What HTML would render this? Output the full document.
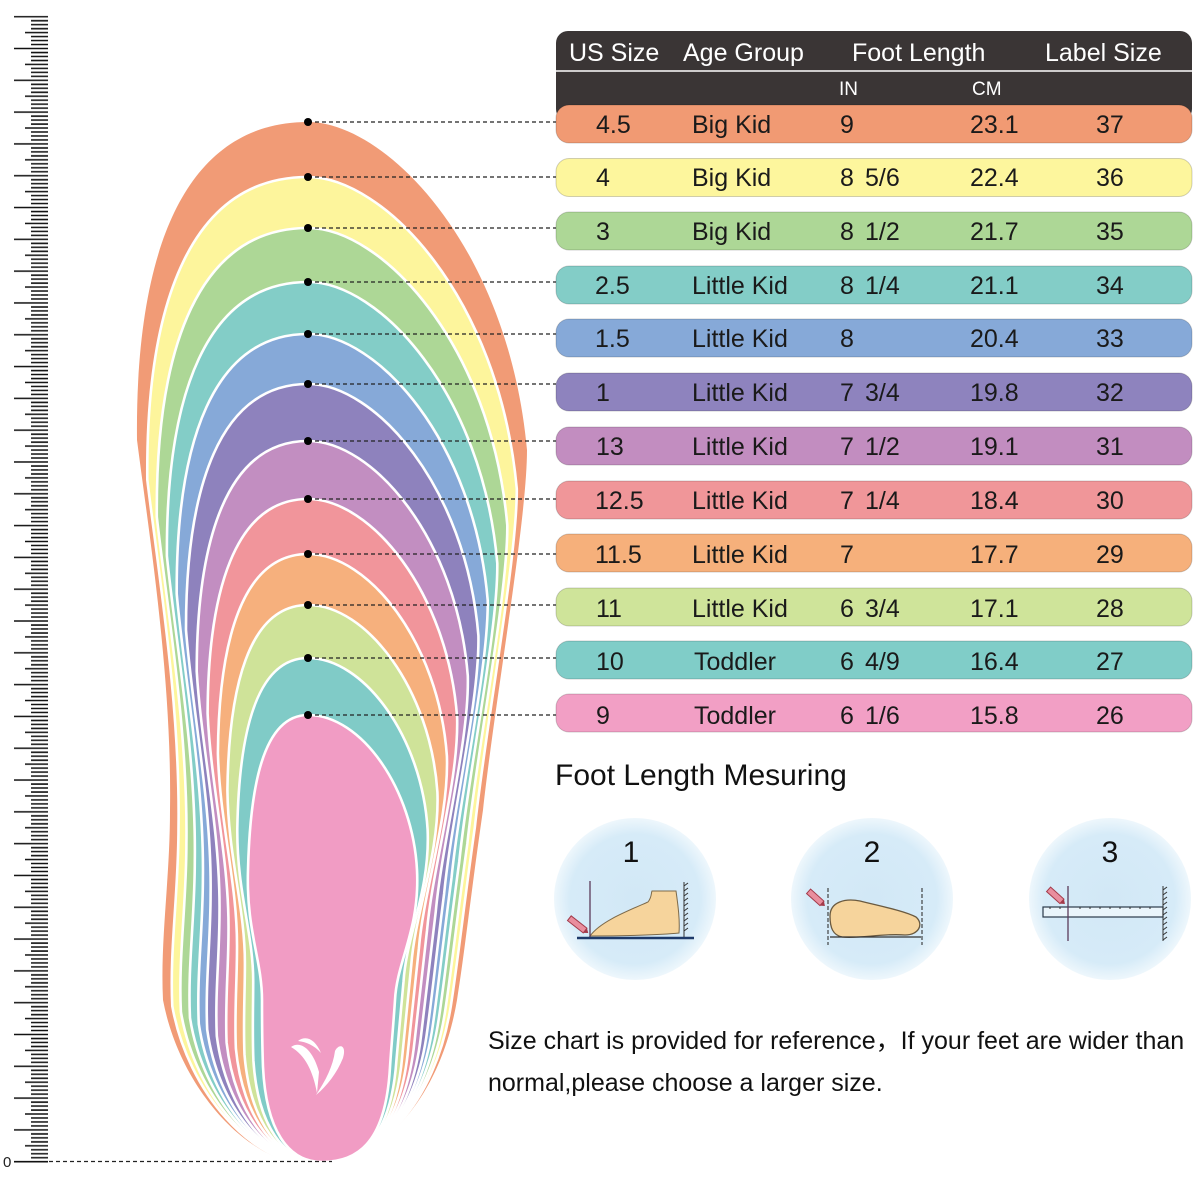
<!DOCTYPE html>
<html><head><meta charset="utf-8"><style>
html,body{margin:0;padding:0;background:#fff;}
svg{display:block;}
text{font-family:"Liberation Sans","Noto Sans CJK SC",sans-serif;}
</style></head><body>
<svg width="1200" height="1200" viewBox="0 0 1200 1200" xmlns="http://www.w3.org/2000/svg">
<defs>
<pattern id="rul" patternUnits="userSpaceOnUse" x="0" y="15.7" width="60" height="31.806">
<path d="M14 1H48M31 4.98H48M31 8.95H48M31 12.93H48M25 16.9H48M31 20.88H48M31 24.85H48M31 28.83H48" stroke="#111" stroke-width="1.6"/>
</pattern>
<radialGradient id="cg" cx="50%" cy="50%" r="50%">
<stop offset="0" stop-color="#d2e8f6"/><stop offset="0.8" stop-color="#d6ebf8"/><stop offset="1" stop-color="#eef7fc"/>
</radialGradient>
</defs>
<rect width="1200" height="1200" fill="#fff"/>
<!-- ruler -->
<rect x="0" y="15.7" width="60" height="1144" fill="url(#rul)"/>
<path d="M14 1161.7H48" stroke="#111" stroke-width="1.6"/>
<text x="3" y="1167" font-size="15" fill="#222">0</text>

<!-- feet -->
<g stroke="#fff" stroke-width="2.6">
<path fill="#f19b76" stroke="none" d="M308 122C385 122 508 245 527 450C527 520 495 700 483 810C470 900 465 950 457 1000C440 1100 380 1165 312 1165C250 1165 180 1090 163 1000C160 940 170 880 170 810C172 680 150 540 137 440C135 250 185 122 308 122Z"/>
<path fill="#fdf59c" d="M308 177C382.9 177 499.2 295.5 516.8 488.9C517.1 558 485.9 724.1 474.8 827.6C462.9 912.1 458.1 959.3 450.8 1006.2C435 1103.7 378.1 1164.7 312.9 1164.7C253.5 1164.7 188 1093.7 172.3 1006.2C169.5 949.3 178.5 893 178.5 827.6C180.3 706 158.9 576.2 147.3 479.9C145.7 300.1 192.1 177 308 177Z"/>
<path fill="#add796" d="M308 228C380.9 228 491 342.4 507.3 525.1C507.9 593.3 477.5 746.5 467.3 844C456.2 923.2 451.8 967.9 445 1012C430.3 1107.2 376.4 1164.5 313.8 1164.5C256.8 1164.5 195.4 1097.2 180.9 1012C178.2 957.9 186.4 905 186.4 844C188.1 730.1 167.2 609.7 156.8 516.9C155.6 346.6 198.8 228 308 228Z"/>
<path fill="#83cdc7" d="M308 282C378.8 282 482.4 392 497.3 563.3C498.1 630.6 468.6 770.1 459.3 861.3C449.2 935.1 445 977 438.9 1018.1C425.4 1110.8 374.6 1164.2 314.7 1164.2C260.3 1164.2 203.2 1100.8 190 1018.1C187.5 967 194.8 917.8 194.8 861.3C196.3 755.5 175.9 645.2 166.9 556C166 395.7 205.8 282 308 282Z"/>
<path fill="#86a9d8" d="M308 334C376.8 334 474 439.8 487.7 600.2C488.7 666.6 460 793 451.5 877.9C442.5 946.5 438.5 985.8 433 1024C420.7 1114.3 372.8 1163.9 315.6 1163.9C263.6 1163.9 210.7 1104.3 198.8 1024C196.5 975.8 202.9 930.1 202.9 877.9C204.2 780.1 184.3 679.4 176.7 593.7C176.1 443.1 212.5 334 308 334Z"/>
<path fill="#8e82bd" d="M308 384C374.8 384 466 485.8 478.4 635.6C479.7 701.1 451.7 814.9 444.1 893.9C436 957.4 432.3 994.2 427.4 1029.6C416.1 1117.7 371.2 1163.7 316.4 1163.7C266.8 1163.7 218 1107.7 207.2 1029.6C205.1 984.2 210.6 941.9 210.6 893.9C211.8 803.7 192.4 712.3 186 630C185.8 488.6 219 384 308 384Z"/>
<path fill="#c28ec1" d="M308 441C372.6 441 456.9 538.2 467.8 675.9C469.4 740.5 442.3 839.9 435.7 912.2C428.6 969.9 425.2 1003.8 421 1036C411 1121.5 369.2 1163.4 317.4 1163.4C270.4 1163.4 226.3 1111.5 216.8 1036C214.9 993.8 219.5 955.3 219.5 912.2C220.4 830.6 201.6 749.8 196.7 671.3C196.9 540.5 226.4 441 308 441Z"/>
<path fill="#f1959b" d="M308 499C370.4 499 447.6 591.5 457.1 717C459 780.7 432.7 865.3 427 930.8C421 982.7 418 1013.6 414.4 1042.6C405.7 1125.4 367.3 1163.1 318.4 1163.1C274.2 1163.1 234.7 1115.4 226.6 1042.6C224.9 1003.6 228.5 969 228.5 930.8C229.2 858 211 788 207.6 713.4C208.1 593.3 234 499 308 499Z"/>
<path fill="#f6b07d" d="M308 554C368.2 554 438.8 642 446.9 756C449.1 818.7 423.6 889.4 418.9 948.4C413.9 994.7 411.1 1022.9 408.2 1048.8C400.7 1129.1 365.4 1162.8 319.3 1162.8C277.7 1162.8 242.7 1119.1 235.9 1048.8C234.3 1012.9 237 982 237 948.4C237.6 884 219.9 824.1 217.9 753.3C218.8 643.4 241.1 554 308 554Z"/>
<path fill="#cfe399" d="M308 605C366.3 605 430.6 688.9 437.4 792.1C439.8 853.9 415.2 911.8 411.3 964.8C407.3 1005.9 404.7 1031.5 402.4 1054.6C396 1132.6 363.7 1162.6 320.1 1162.6C281 1162.6 250 1122.6 244.5 1054.6C243.1 1021.5 244.9 994 244.9 964.8C245.3 908.1 228.2 857.7 227.4 790.2C228.7 689.8 247.7 605 308 605Z"/>
<path fill="#80cbc7" d="M308 658C364.2 658 422.1 737.6 427.6 829.6C430.3 890.6 406.4 935 403.5 981.7C400.4 1017.5 398.1 1040.4 396.4 1060.6C391.2 1136.2 361.9 1162.3 321 1162.3C284.3 1162.3 257.7 1126.2 253.4 1060.6C252.2 1030.4 253.2 1006.5 253.2 981.7C253.4 933.1 236.8 892.5 237.3 828.7C238.9 738.1 254.6 658 308 658Z"/>
<path fill="#f19cc4" d="M308 715C362 715 413 790 417 870C420 930 397 960 395 1000C393 1030 391 1050 390 1067C386 1140 360 1162 322 1162C288 1162 266 1130 263 1067C262 1040 262 1020 262 1000C262 960 246 930 248 870C250 790 262 715 308 715Z"/>
</g>
<!-- logo -->
<g fill="#fff">
<path d="M291 1047C301 1040 313 1050 319 1072L317 1093C313 1071 305 1055 291 1047Z"/>
<path d="M298 1041C306 1035 315 1039 321 1053C314 1045 306 1042 298 1041Z"/>
<path d="M335 1051C339 1043 347 1045 343 1058C337 1073 327 1086 316 1095C326 1080 333 1066 335 1051Z"/>
</g>
<path d="M49 1161.5H332" stroke="#222" stroke-width="1.2" stroke-dasharray="4 3"/>

<!-- dashed leaders and dots -->
<g stroke="#222" stroke-width="1.2" stroke-dasharray="4 3">
<path d="M308 122H556M308 177H556M308 228H556M308 282H556M308 334H556M308 384H556M308 441H556M308 499H556M308 554H556M308 605H556M308 658H556M308 715H556"/>
</g>
<g fill="#000">
<circle cx="308" cy="122" r="4"/><circle cx="308" cy="177" r="4"/><circle cx="308" cy="228" r="4"/><circle cx="308" cy="282" r="4"/><circle cx="308" cy="334" r="4"/><circle cx="308" cy="384" r="4"/><circle cx="308" cy="441" r="4"/><circle cx="308" cy="499" r="4"/><circle cx="308" cy="554" r="4"/><circle cx="308" cy="605" r="4"/><circle cx="308" cy="658" r="4"/><circle cx="308" cy="715" r="4"/>
</g>

<!-- table header -->
<rect x="556" y="31" width="636" height="90" rx="12" fill="#3a3535"/>
<path d="M556 71H1192" stroke="#fff" stroke-width="1.5"/>
<g fill="#fff" font-size="25">
<text x="569" y="61">US Size</text>
<text x="683" y="61">Age Group</text>
<text x="852" y="61">Foot Length</text>
<text x="1045" y="61">Label Size</text>
</g>
<g fill="#fff" font-size="19">
<text x="839" y="95">IN</text>
<text x="972" y="95">CM</text>
</g>

<!-- rows -->
<g stroke="rgba(0,0,0,0.18)" stroke-width="1">
<rect x="556" y="105" width="636" height="38" rx="13" fill="#f19a73"/>
<rect x="556" y="158.5" width="636" height="38" rx="13" fill="#fdf69d"/>
<rect x="556" y="212" width="636" height="38" rx="13" fill="#add796"/>
<rect x="556" y="266" width="636" height="38" rx="13" fill="#83cdc7"/>
<rect x="556" y="319" width="636" height="38" rx="13" fill="#86a9d8"/>
<rect x="556" y="373" width="636" height="38" rx="13" fill="#8e83be"/>
<rect x="556" y="427" width="636" height="38" rx="13" fill="#c28dc0"/>
<rect x="556" y="481" width="636" height="38" rx="13" fill="#f09699"/>
<rect x="556" y="534" width="636" height="38" rx="13" fill="#f6b07b"/>
<rect x="556" y="588" width="636" height="38" rx="13" fill="#cfe49a"/>
<rect x="556" y="641" width="636" height="38" rx="13" fill="#80cdc8"/>
<rect x="556" y="694" width="636" height="38" rx="13" fill="#f29fc5"/>
</g>
<g fill="#1a1a1a" font-size="25">
<text x="596" y="133">4.5</text><text x="692" y="133">Big Kid</text><text x="840" y="133">9</text><text x="970" y="133">23.1</text><text x="1096" y="133">37</text>
<text x="596" y="186">4</text><text x="692" y="186">Big Kid</text><text x="840" y="186">8</text><text x="865" y="186">5/6</text><text x="970" y="186">22.4</text><text x="1096" y="186">36</text>
<text x="596" y="240">3</text><text x="692" y="240">Big Kid</text><text x="840" y="240">8</text><text x="865" y="240">1/2</text><text x="970" y="240">21.7</text><text x="1096" y="240">35</text>
<text x="595" y="294">2.5</text><text x="692" y="294">Little Kid</text><text x="840" y="294">8</text><text x="865" y="294">1/4</text><text x="970" y="294">21.1</text><text x="1096" y="294">34</text>
<text x="595" y="347">1.5</text><text x="692" y="347">Little Kid</text><text x="840" y="347">8</text><text x="970" y="347">20.4</text><text x="1096" y="347">33</text>
<text x="596" y="401">1</text><text x="692" y="401">Little Kid</text><text x="840" y="401">7</text><text x="865" y="401">3/4</text><text x="970" y="401">19.8</text><text x="1096" y="401">32</text>
<text x="596" y="455">13</text><text x="692" y="455">Little Kid</text><text x="840" y="455">7</text><text x="865" y="455">1/2</text><text x="970" y="455">19.1</text><text x="1096" y="455">31</text>
<text x="595" y="509">12.5</text><text x="692" y="509">Little Kid</text><text x="840" y="509">7</text><text x="865" y="509">1/4</text><text x="970" y="509">18.4</text><text x="1096" y="509">30</text>
<text x="595" y="563">11.5</text><text x="692" y="563">Little Kid</text><text x="840" y="563">7</text><text x="970" y="563">17.7</text><text x="1096" y="563">29</text>
<text x="596" y="617">11</text><text x="692" y="617">Little Kid</text><text x="840" y="617">6</text><text x="865" y="617">3/4</text><text x="970" y="617">17.1</text><text x="1096" y="617">28</text>
<text x="596" y="670">10</text><text x="694" y="670">Toddler</text><text x="840" y="670">6</text><text x="865" y="670">4/9</text><text x="970" y="670">16.4</text><text x="1096" y="670">27</text>
<text x="596" y="724">9</text><text x="694" y="724">Toddler</text><text x="840" y="724">6</text><text x="865" y="724">1/6</text><text x="970" y="724">15.8</text><text x="1096" y="724">26</text>
</g>

<text x="555" y="785" font-size="30" fill="#111">Foot Length Mesuring</text>

<!-- circles -->
<circle cx="635" cy="899" r="81" fill="url(#cg)"/>
<circle cx="872" cy="899" r="81" fill="url(#cg)"/>
<circle cx="1110" cy="899" r="81" fill="url(#cg)"/>
<g font-size="30" fill="#111" text-anchor="middle">
<text x="631" y="862">1</text><text x="872" y="862">2</text><text x="1110" y="862">3</text>
</g>
<!-- circle 1 -->
<path d="M590 936C600 922 625 912 648 902C652 897 651 893 652 891L676 891C678 905 680 920 679 933C660 935 620 936 590 936Z" fill="#f6d49c" stroke="#7d6a4a" stroke-width="1"/>
<path d="M590 881V939" stroke="#5b3a5a" stroke-width="1.3"/>
<path d="M577 938H694" stroke="#1e3a6a" stroke-width="2.5"/>
<path d="M684 882V937M684 886l4-3M684 891l4-3M684 896l4-3M684 901l4-3M684 906l4-3M684 911l4-3M684 916l4-3M684 921l4-3M684 926l4-3M684 931l4-3" stroke="#333" stroke-width="1"/>
<g transform="translate(578 925) rotate(38)"><rect x="-11" y="-3" width="20" height="6" fill="#e98e9e" stroke="#a33a4a" stroke-width="1"/><path d="M9 -3L13 0L9 3Z" fill="#a33a4a"/></g>
<!-- circle 2 -->
<path d="M830 916C830 902 845 898 860 901C880 906 905 911 916 917C924 924 919 935 905 935C882 933 860 939 842 937C833 935 830 928 830 916Z" fill="#f6d49c" stroke="#6a5a40" stroke-width="1.3"/>
<path d="M828 888V945M922 888V945" stroke="#333" stroke-width="1.1" stroke-dasharray="4 2"/>
<path d="M830 937H921" stroke="#333" stroke-width="1.2"/>
<g transform="translate(816 898) rotate(42)"><rect x="-10" y="-3" width="18" height="6" fill="#e98e9e" stroke="#a33a4a" stroke-width="1"/><path d="M8 -3L12 0L8 3Z" fill="#a33a4a"/></g>
<!-- circle 3 -->
<rect x="1043" y="907" width="120" height="10" fill="#eaf5fb" stroke="#2b3a4a" stroke-width="1.2"/>
<path d="M1050 907v2M1060 907v2M1080 907v2M1090 907v2M1100 907v2M1110 907v2M1120 907v2M1130 907v2M1140 907v2M1150 907v2" stroke="#333" stroke-width="1"/>
<path d="M1068 886V941" stroke="#5b3a5a" stroke-width="1.3"/>
<path d="M1163 886V941M1163 890l4-3M1163 895l4-3M1163 900l4-3M1163 905l4-3M1163 910l4-3M1163 915l4-3M1163 920l4-3M1163 925l4-3M1163 930l4-3M1163 935l4-3M1163 940l4-3" stroke="#333" stroke-width="1"/>
<g transform="translate(1056 896) rotate(42)"><rect x="-10" y="-3" width="18" height="6" fill="#e98e9e" stroke="#a33a4a" stroke-width="1"/><path d="M8 -3L12 0L8 3Z" fill="#a33a4a"/></g>

<!-- note -->
<g font-size="25" fill="#111">
<text x="488" y="1049">Size chart is provided for reference，If your feet are wider than</text>
<text x="488" y="1091">normal,please choose a larger size.</text>
</g>
</svg>
</body></html>
